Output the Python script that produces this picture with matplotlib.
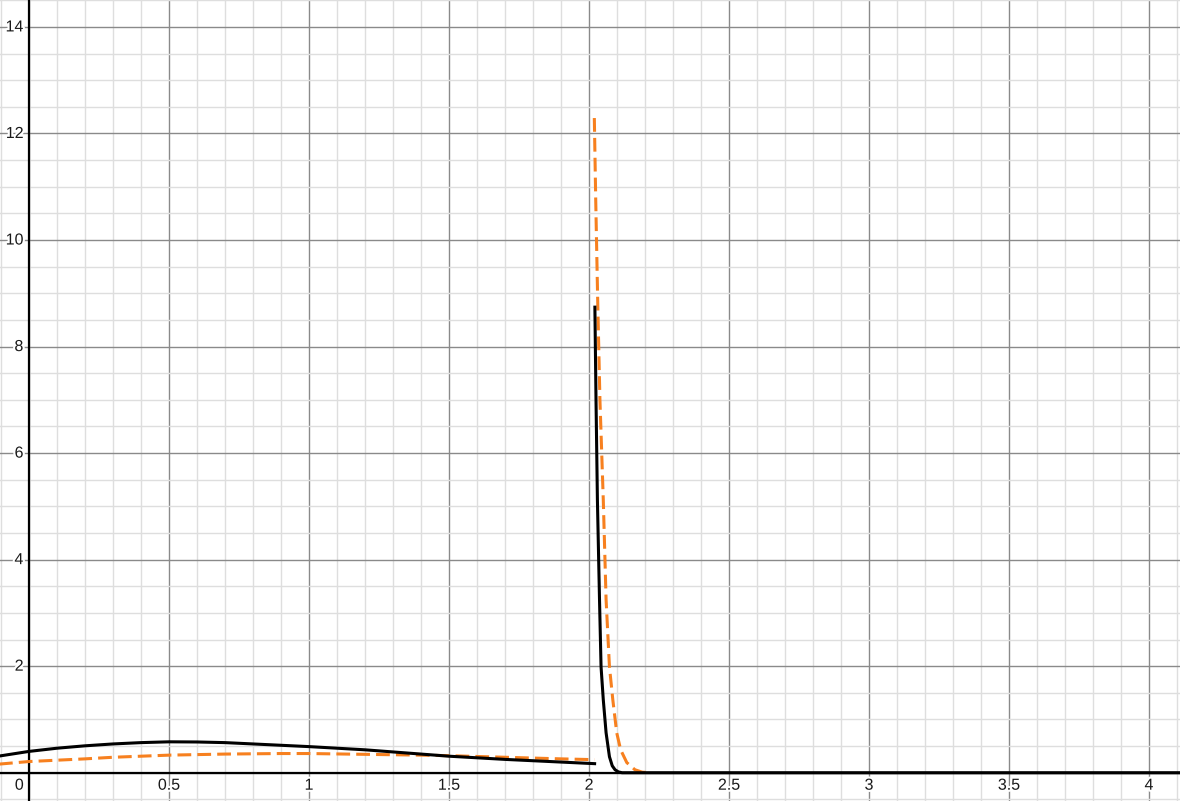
import matplotlib
matplotlib.use("Agg")
import matplotlib.pyplot as plt
import matplotlib.patheffects as pe
import numpy as np
from matplotlib.ticker import MultipleLocator

plt.rcParams['font.family'] = ['Liberation Sans', 'DejaVu Sans']

# values
black_left_x = [-0.11, 0.0, 0.1, 0.2, 0.3, 0.4, 0.5, 0.6, 0.7, 0.8, 0.9, 1.0,
                1.1, 1.2, 1.3, 1.4, 1.5, 1.6, 1.7, 1.8, 1.9, 2.02]
black_left_y = [0.31, 0.40, 0.46, 0.505, 0.54, 0.565, 0.58, 0.577, 0.565, 0.54, 0.515, 0.49,
                0.46, 0.43, 0.39, 0.35, 0.31, 0.28, 0.25, 0.225, 0.20, 0.17]

black_spike_x = [2.021, 2.025, 2.030, 2.0375, 2.043, 2.051, 2.061, 2.073, 2.083, 2.093,
                 2.105, 2.118, 4.2]
black_spike_y = [8.74, 7.0, 5.12, 3.25, 1.99, 1.37, 0.75, 0.30, 0.13, 0.056,
                 0.015, 0.0, 0.0]

orange_left_x = [-0.11, 0.0, 0.1, 0.2, 0.3, 0.4, 0.5, 0.6, 0.7, 0.8, 0.9, 1.0,
                 1.2, 1.4, 1.5, 1.6, 1.8, 1.9, 2.02]
orange_left_y = [0.16, 0.21, 0.235, 0.26, 0.29, 0.31, 0.33, 0.34, 0.35, 0.355, 0.36, 0.36,
                 0.345, 0.33, 0.32, 0.305, 0.275, 0.26, 0.245]

orange_spike_x = [2.019, 2.024, 2.031, 2.039, 2.051, 2.061, 2.073, 2.085, 2.099, 2.113,
                  2.135, 2.164, 2.19, 2.22]
orange_spike_y = [12.29, 10.75, 8.87, 7.0, 5.12, 3.25, 1.99, 1.37, 0.75, 0.43,
                  0.19, 0.056, 0.01, 0.0]

x_labels = [0.5, 1, 1.5, 2, 2.5, 3, 3.5, 4]
y_labels = [2, 4, 6, 8, 10, 12, 14]

fig = plt.figure(figsize=(11.8, 8.01), dpi=100)
ax = fig.add_axes([0, 0, 1, 1])
ax.set_xlim(-0.1036, 4.1107)
ax.set_ylim(-0.531, 14.506)

ax.xaxis.set_major_locator(MultipleLocator(0.5))
ax.xaxis.set_minor_locator(MultipleLocator(0.1))
ax.yaxis.set_major_locator(MultipleLocator(2))
ax.yaxis.set_minor_locator(MultipleLocator(0.5))
ax.grid(which='major', color='#8a8a8a', lw=1.0)
ax.grid(which='minor', color='#dedede', lw=1.0)
ax.tick_params(which='both', length=0, labelbottom=False, labelleft=False)
for s in ax.spines.values():
    s.set_visible(False)
ax.set_axisbelow(True)

ax.axhline(0, color='black', lw=1.6, zorder=2)
ax.axvline(0, color='black', lw=1.6, zorder=2)

halo = [pe.withStroke(linewidth=3, foreground='white')]
for xv in x_labels:
    ax.annotate(f'{xv:g}', (xv, 0), xytext=(0, -9), textcoords='offset points',
                ha='center', va='center', fontsize=11.5, color='#1a1a1a',
                path_effects=halo, zorder=3)
for yv in y_labels:
    ax.annotate(f'{yv:g}', (0, yv), xytext=(-4, 0), textcoords='offset points',
                ha='right', va='center', fontsize=11.5, color='#1a1a1a',
                path_effects=halo, zorder=3)
ax.annotate('0', (0, 0), xytext=(-7, -9), textcoords='offset points',
            ha='center', va='center', fontsize=11.5, color='#1a1a1a',
            path_effects=halo, zorder=3)

orange = '#f7801f'
ax.plot(orange_left_x, orange_left_y, color=orange, lw=2.2, dashes=(4.5, 2), zorder=4)
ax.plot(orange_spike_x, orange_spike_y, color=orange, lw=2.2, dashes=(4.5, 2), zorder=4)
ax.plot(black_left_x, black_left_y, color='black', lw=2.2, zorder=5)
ax.plot(black_spike_x, black_spike_y, color='black', lw=2.2, zorder=5)

fig.savefig('out.png', dpi=100)
